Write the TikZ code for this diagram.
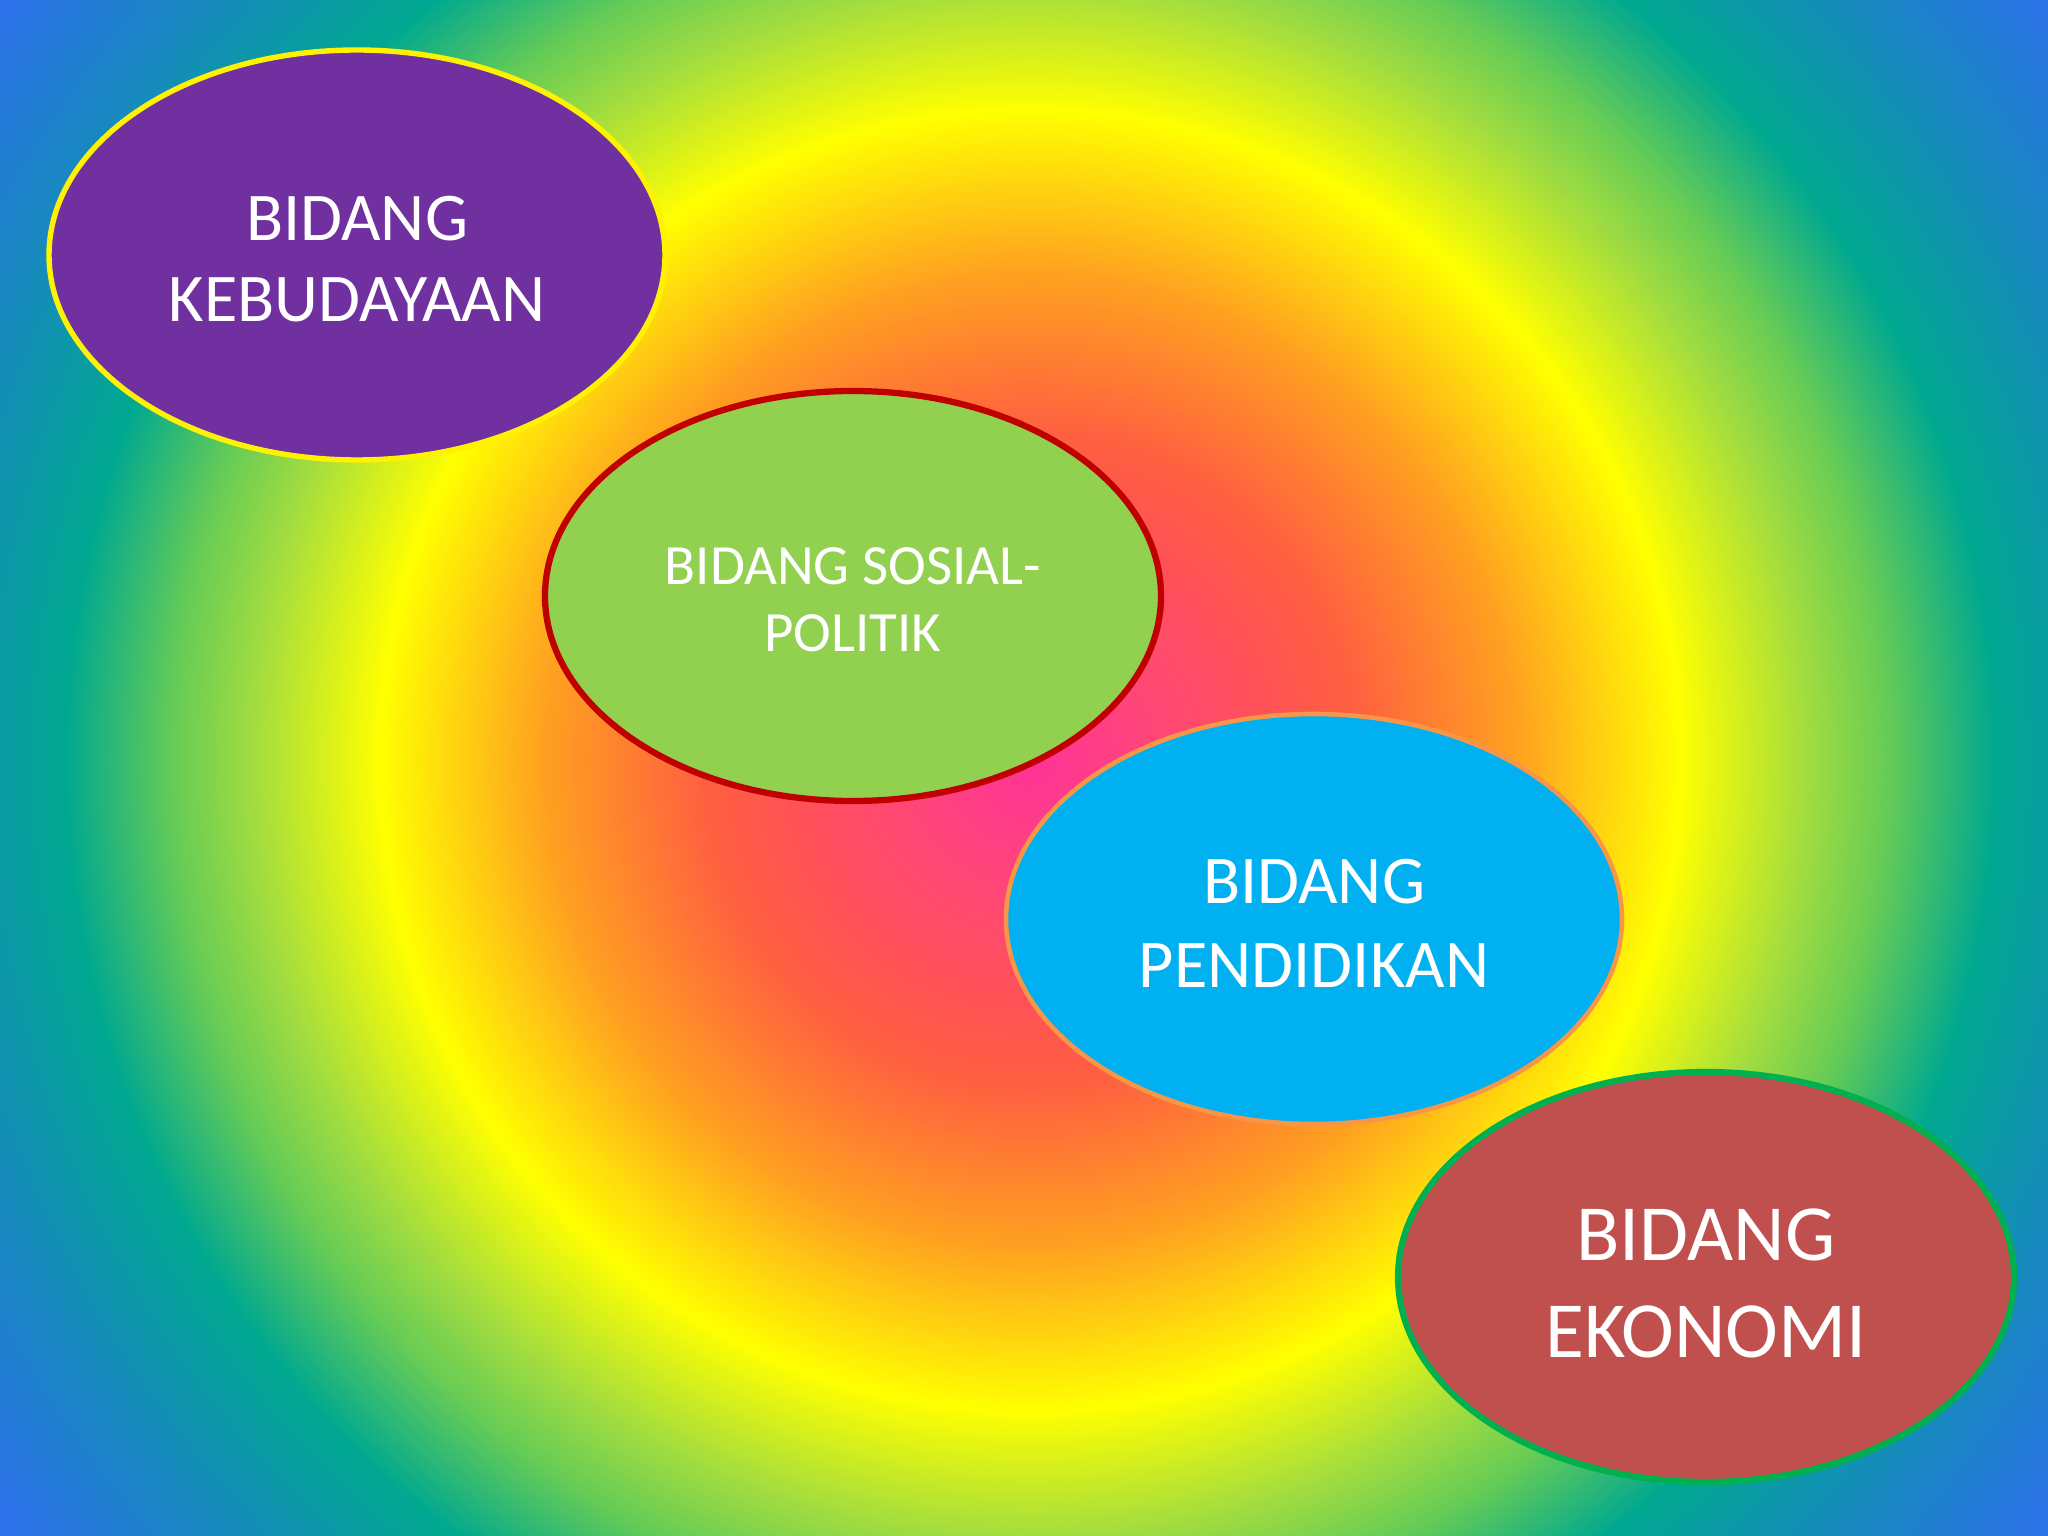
\documentclass[tikz,border=0pt]{standalone}
\usepackage{fontspec}
\setmainfont{Carlito}
\usetikzlibrary{shapes.geometric}
\definecolor{cPurple}{HTML}{7030A0}
\definecolor{cGreen}{HTML}{92D050}
\definecolor{cBlue}{HTML}{00B0F0}
\definecolor{cRed}{HTML}{C0504D}
\definecolor{cDarkRed}{HTML}{C00000}
\definecolor{cOrange}{HTML}{F79646}
\definecolor{cBorderGreen}{HTML}{00B050}
\pgfdeclareradialshading{rainbowbg}{\pgfpoint{0bp}{0bp}}{%
  color(0bp)=(rgb,255:red,255;green,51;blue,153);
  color(3bp)=(rgb,255:red,255;green,74;blue,112);
  color(4.5bp)=(rgb,255:red,255;green,80;blue,88);
  color(6.35bp)=(rgb,255:red,255;green,96;blue,64);
  color(9.4bp)=(rgb,255:red,255;green,160;blue,32);
  color(12.6bp)=(rgb,255:red,255;green,255;blue,0);
  color(15.1bp)=(rgb,255:red,160;green,220;blue,64);
  color(16.6bp)=(rgb,255:red,102;green,204;blue,85);
  color(18.7bp)=(rgb,255:red,0;green,168;blue,144);
  color(21.75bp)=(rgb,255:red,24;green,136;blue,192);
  color(25bp)=(rgb,255:red,48;green,112;blue,240);
  color(50bp)=(rgb,255:red,48;green,112;blue,240)}
\tikzset{
  x=0.3515625pt, y=-0.3515625pt,
  bubble/.style={ellipse, inner sep=0pt,
    minimum width=616*0.3515625pt, minimum height=410*0.3515625pt},
  bubbletext/.style={inner sep=0pt, align=center, text=white},
}
\begin{document}
\begin{tikzpicture}
\useasboundingbox (0,0) rectangle (2048,1536);
\begin{scope}
  \clip (0,0) rectangle (2048,1536);
  \shade[shading=rainbowbg] (1030,760) circle[radius=1290];
\end{scope}
\node[bubble, fill=cPurple, draw=yellow, line width=1.9pt] (kebudayaan) at (357,255) {};
\node[bubble, fill=cGreen, draw=cDarkRed, line width=2.2pt] (sospol) at (853,596) {};
\node[bubble, fill=cBlue, draw=cOrange, line width=1.6pt] (pendidikan) at (1314,919) {};
\node[bubble, fill=cRed, draw=cBorderGreen, line width=2.2pt] (ekonomi) at (1706,1277) {};
\node[bubbletext, font={\fontsize{24}{28.5}\selectfont}] (kebudayaanText)
  at ([yshift=-1.3pt]kebudayaan.center) {BIDANG\\KEBUDAYAAN};
\node[bubbletext, font={\fontsize{20}{23.4}\selectfont}] (sospolText)
  at ([yshift=-1.4pt]sospol.center) {BIDANG SOSIAL-\\POLITIK};
\node[bubbletext, font={\fontsize{24}{29.3}\selectfont}] (pendidikanText)
  at ([yshift=-1.5pt]pendidikan.center) {BIDANG\\PENDIDIKAN};
\node[bubbletext, font={\fontsize{28}{34}\selectfont}] (ekonomiText)
  at ([yshift=-2.2pt]ekonomi.center) {BIDANG\\EKONOMI};
\end{tikzpicture}
\end{document}
